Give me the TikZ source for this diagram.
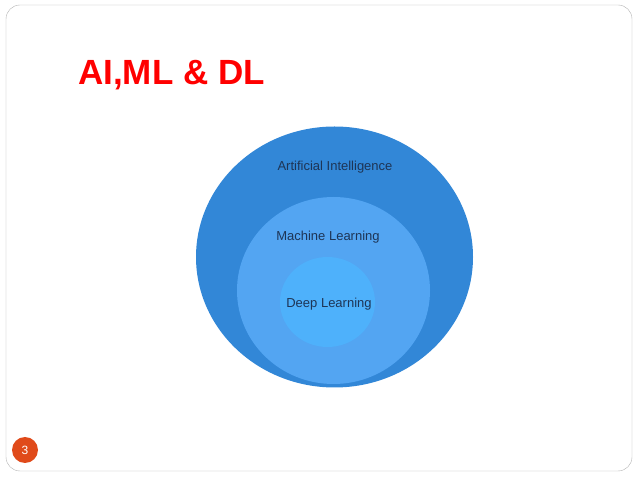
\documentclass[tikz,border=0pt]{standalone}
\usepackage{fontspec}
\setmainfont{Liberation Sans}
\definecolor{outerc}{HTML}{3287D7}
\definecolor{midc}{HTML}{53A5F2}
\definecolor{innc}{HTML}{4EB1FB}
\definecolor{txtc}{HTML}{1E3556}
\definecolor{numc}{HTML}{E04A1A}
\begin{document}
\begin{tikzpicture}[x=1pt,y=-1pt,
  lbl/.style={text=txtc,font=\fontsize{13}{15}\selectfont}]
\useasboundingbox (0,0) rectangle (638,478);
\draw[gray!60,rounded corners=14] (6,5) rectangle (632,471);
\node[text=red,font=\bfseries\fontsize{35}{40}\selectfont,anchor=west,inner sep=0] (title) at (78,75) {AI,ML \& DL};
\fill[outerc] (334.5,257) ellipse [x radius=138.5,y radius=130.5];
\fill[midc] (333.5,290.5) ellipse [x radius=96.5,y radius=93.5];
\fill[innc] (327.5,302) ellipse [x radius=47.5,y radius=45];
\node[lbl] (ai) at (335,167) {Artificial Intelligence};
\node[lbl] (ml) at (328,237) {Machine Learning};
\node[lbl] (dl) at (329,304) {Deep Learning};
\node[circle,fill=numc,minimum size=26,inner sep=0,text=white,font=\fontsize{12}{13}\selectfont] (num) at (25,450) {3};
\end{tikzpicture}
\end{document}
